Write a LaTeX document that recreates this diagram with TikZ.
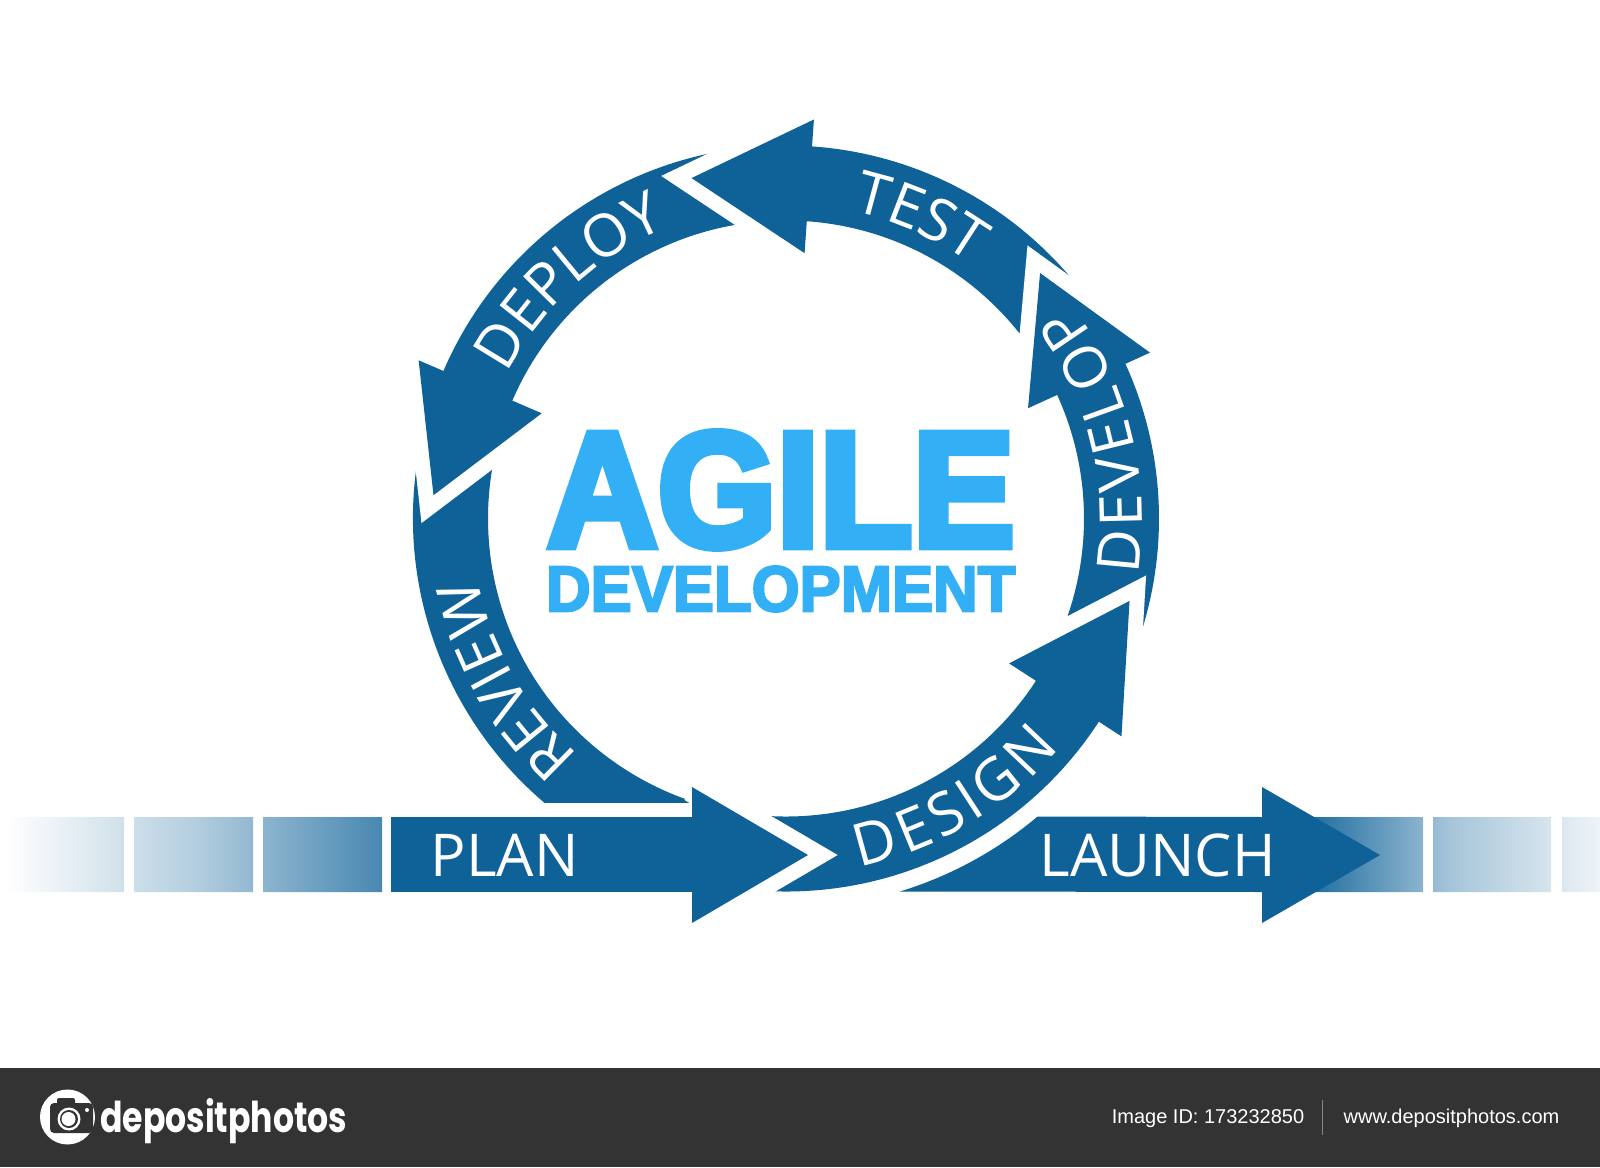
\documentclass[tikz,border=0pt]{standalone}
\usepackage{fontspec}
\usetikzlibrary{calc,decorations.text}
\setmainfont{Liberation Sans}
\newfontfamily\labelfont{Open Sans}
\newfontfamily\widelabelfont{Open Sans}[LetterSpace=0.5]
\newfontfamily\agilefont[FakeBold=5]{Liberation Sans Bold}
\newfontfamily\devfont[FakeBold=3.5]{Liberation Sans Bold}
\newfontfamily\logofont{Poppins}
\newcommand\lblfont{\labelfont\fontsize{59}{60}\selectfont}
\newcommand\widelblfont{\widelabelfont\fontsize{59}{60}\selectfont\fontdimen2\font=5pt\relax}
\definecolor{band}{RGB}{14,98,152}
\definecolor{agile}{RGB}{51,176,245}
\definecolor{footer}{RGB}{51,51,51}
\newcommand\bandsector[2]{\fill[band] ($(C)+(#1:373)$) arc[start angle=#1, end angle=#2, radius=373] -- ($(C)+(#2:298)$) arc[start angle=#2, end angle=#1, radius=298] -- cycle;}
\newcommand\cyclehead[2]{%
  \coordinate (#2o) at ($(C)+(#1:400)$);
  \coordinate (#2i) at ($(C)+(#1:266)$);
  \coordinate (#2t) at ($(C)+(#1:333)+(#1+90:118)$);
  \draw[gapline] (#2o) -- (#2t) -- (#2i);
  \fill[band] (#2o) -- (#2t) -- (#2i) -- cycle;}
\begin{document}
\begin{tikzpicture}[x=1pt,y=1pt,
  gapline/.style={draw=white, line width=30pt, line join=miter},
  arclabel/.style={decorate, decoration={text along path, text align=center, text color=white, text={|\lblfont|#1}}},
  widearclabel/.style={decorate, decoration={text along path, text align=center, text color=white, text={|\widelblfont|#1}}},
  flatlabel/.style={anchor=base, inner sep=0pt, text=white, font=\lblfont}]
\useasboundingbox (0,0) rectangle (1600,-1167);
\fill[white] (0,0) rectangle (1600,-1167);
\coordinate (C) at (786,-518.5);
% gradient squares
\shade[left color=white, right color=band!76!white, middle color=band!31!white]
  (6,-817) rectangle (124,-892) (134,-817) rectangle (253,-892) (263,-817) rectangle (382,-892);
\shade[left color=band!97!white, right color=band!7!white, middle color=band!37!white]
  (1300,-817) rectangle (1423,-892) (1433,-817) rectangle (1551,-892) (1562,-817) rectangle (1600,-892);
% plan body
\fill[band] (391,-817) rectangle (694,-892);
% launch body
\fill[band] ($(C)+(-73.02:390)$) arc[start angle=-73.02, end angle=-49.83, radius=390] -- (1264,-817) -- (1264,-892) -- cycle;
% bands of the cycle
\bandsector{262}{328}
\bandsector{327}{385.5}
\bandsector{24.5}{87}
\bandsector{86}{157.7}
\begin{scope}
  \clip (0,-802) rectangle (1600,0);
  \bandsector{156.7}{280}
\end{scope}
% heads of the cycle
\cyclehead{327}{hd}
\cyclehead{24.5}{hv}
\cyclehead{86}{ht}
\cyclehead{156.7}{hp}
% plan head
\coordinate (po) at (692,-787);
\coordinate (pt) at (808,-855);
\coordinate (pi) at (692,-923);
\draw[gapline] (po) -- (pt) -- (pi);
\fill[band] (po) -- (pt) -- (pi) -- cycle;
% launch head
\coordinate (lo) at (1262,-787);
\coordinate (lt) at (1380,-855);
\coordinate (li) at (1262,-923);
\fill[band] (lo) -- (lt) -- (li) -- cycle;
% labels
\node[flatlabel] (plan) at (504.5,-876) {PLAN};
\node[flatlabel] (launch) at (1157.5,-876) {LAUNCH};
\path[arclabel=DEPLOY] ($(C)+(172.4:314.5)$) arc[start angle=172.4, end angle=92.4, radius=314.5];
\path[arclabel=TEST] ($(C)+(105.9:314.5)$) arc[start angle=105.9, end angle=25.9, radius=314.5];
\path[arclabel=REVIEW] ($(C)+(249.9:314.5)$) arc[start angle=249.9, end angle=169.9, radius=314.5];
\path[widearclabel={D E V E L O P}] ($(C)+(-26:356.5)$) arc[start angle=-26, end angle=54, radius=356.5];
\path[widearclabel={D E S I G N}] ($(C)+(-99:356.5)$) arc[start angle=-99, end angle=-19, radius=356.5];
% title
\node[anchor=south west, inner sep=0pt, text=agile] (agile) at (547,-548) {\resizebox{467pt}{114pt}{\agilefont AGILE}};
\node[anchor=south west, inner sep=0pt, text=agile] (dev) at (546,-612) {\resizebox{469pt}{45pt}{\devfont DEVELOPMENT}};
% footer
\fill[footer] (0,-1068) rectangle (1600,-1167);
\fill[white] (67.5,-1117) circle (27.5);
\fill[footer, rounded corners=4pt] (50,-1103) rectangle (93,-1133);
\fill[footer, rounded corners=2pt] (57,-1098) rectangle (75,-1106);
\fill[white] (69,-1119) circle (11.5);
\fill[footer] (69,-1119) circle (9);
\fill[white] (68.5,-1119) circle (7);
\fill[white] (87,-1110) circle (2);
\node[anchor=base west, inner sep=0pt, text=white] (logo) at (100,-1132) {\resizebox{247pt}{34pt}{\logofont\bfseries depositphotos}};
\node[anchor=base, inner sep=0pt, text=white, font=\fontsize{20}{22}\selectfont] (imgid) at (1208,-1123) {Image ID: 173232850};
\draw[white!40!footer, line width=1pt] (1322,-1100) -- (1322,-1135);
\node[anchor=base, inner sep=0pt, text=white, font=\fontsize{20}{22}\selectfont] (www) at (1451.5,-1123) {www.depositphotos.com};
\end{tikzpicture}
\end{document}
